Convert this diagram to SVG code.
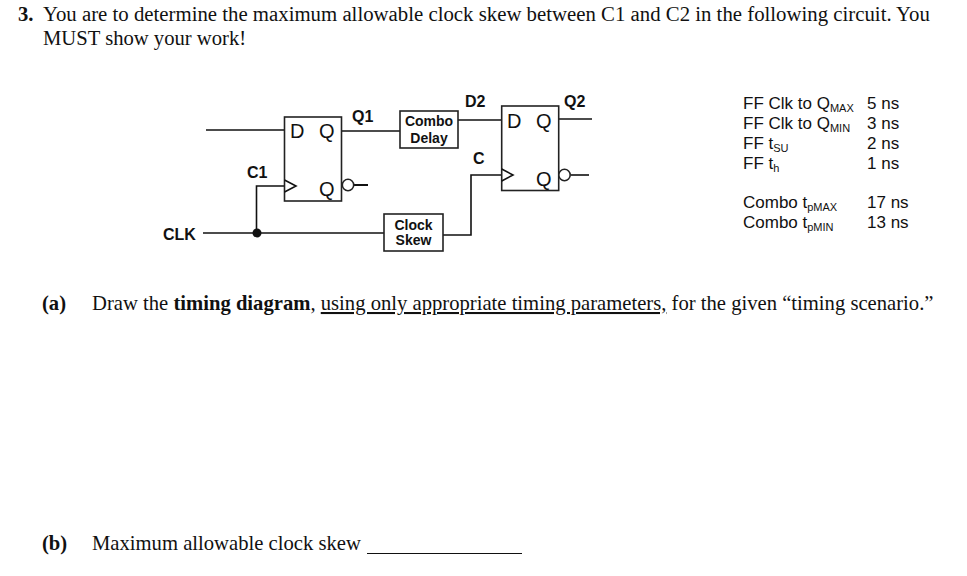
<svg xmlns="http://www.w3.org/2000/svg" width="967" height="576" viewBox="0 0 967 576">
<style>
.t{font-family:"Liberation Serif",serif;font-size:20.65px;fill:#111}
.b{font-weight:bold}
.s{font-family:"Liberation Sans",Arial,sans-serif;fill:#111}
.l{font-size:14px;font-weight:bold}
.n{font-size:16px;font-weight:bold}
.g{font-size:20px}
.p{font-size:17px}
.u{font-size:11px}
.w{fill:none;stroke:#111;stroke-width:1.6}
.box{fill:#fff;stroke:#222;stroke-width:1.6}
</style>
<rect width="967" height="576" fill="#fff"/>
<g id="question">
<text class="t b" x="18" y="21">3.</text>
<text class="t" x="43" y="21" style="font-size:20.8px">You are to determine the maximum allowable clock skew between C1 and C2 in the following circuit. You</text>
<text class="t" x="43" y="45">MUST show your work!</text>
<text class="t b" x="42" y="310">(a)</text>
<text class="t" x="92" y="310">Draw the <tspan class="b">timing diagram</tspan>, <tspan text-decoration="underline" style="text-decoration-skip-ink:none">using only appropriate timing parameters,</tspan> for the given “timing scenario.”</text>
<text class="t b" x="42" y="550">(b)</text>
<text class="t" x="92" y="550">Maximum allowable clock skew</text>
<line x1="367" y1="553.5" x2="522" y2="553.5" stroke="#111" stroke-width="1.2"/>
</g>
<g id="connectors" class="w">
<path d="M206 130H285"/>
<path d="M342 131H400"/>
<path d="M458 120H502"/>
<path d="M559 119H592"/>
<path d="M354 185H368" stroke-width="2"/>
<path d="M571 175H589"/>
<path d="M203 233H384"/>
<path d="M256.500 233V186H285"/>
<path d="M443 235H471V175H502"/>
<circle cx="257" cy="233" r="4.500" fill="#111" stroke="none"/>
</g>
<g id="ff1">
<rect class="box" x="284.500" y="117" width="57" height="84"/>
<path class="w" d="M284.500 180L296 186L284.500 192"/>
<circle class="box" cx="348" cy="185" r="5.700"/>
<text class="s g" x="290" y="138">D</text>
<text class="s g" x="319" y="138">Q</text>
<text class="s g" x="319" y="196">Q</text>
</g>
<g id="ff2">
<rect class="box" x="501.700" y="106" width="57" height="84.500"/>
<path class="w" d="M501.700 169L513 175L501.700 181"/>
<circle class="box" cx="564.500" cy="175" r="5.700"/>
<text class="s g" x="507" y="128">D</text>
<text class="s g" x="536" y="128">Q</text>
<text class="s g" x="536" y="186">Q</text>
</g>
<g id="combo">
<rect class="box" x="400" y="111" width="58" height="37"/>
<text class="s l" x="429" y="126" text-anchor="middle">Combo</text>
<text class="s l" x="429" y="143" text-anchor="middle">Delay</text>
</g>
<g id="skew">
<rect class="box" x="384" y="214" width="59" height="37"/>
<text class="s l" x="413.500" y="230" text-anchor="middle">Clock</text>
<text class="s l" x="413.500" y="245" text-anchor="middle">Skew</text>
</g>
<g id="labels">
<text class="s n" x="352" y="122">Q1</text>
<text class="s n" x="247" y="178">C1</text>
<text class="s n" x="163" y="240">CLK</text>
<text class="s n" x="465" y="107">D2</text>
<text class="s n" x="473" y="164">C</text>
<text class="s n" x="564" y="107">Q2</text>
</g>
<g id="params">
<text class="s p" x="743" y="109">FF Clk to Q<tspan class="u" dy="3">MAX</tspan></text>
<text class="s p" x="743" y="129">FF Clk to Q<tspan class="u" dy="3">MIN</tspan></text>
<text class="s p" x="743" y="149">FF t<tspan class="u" dy="3">SU</tspan></text>
<text class="s p" x="743" y="169">FF t<tspan class="u" dy="3">h</tspan></text>
<text class="s p" x="743" y="208">Combo t<tspan class="u" dy="3">pMAX</tspan></text>
<text class="s p" x="743" y="228">Combo t<tspan class="u" dy="3">pMIN</tspan></text>
<text class="s p" x="867" y="109">5 ns</text>
<text class="s p" x="867" y="129">3 ns</text>
<text class="s p" x="867" y="149">2 ns</text>
<text class="s p" x="867" y="169">1 ns</text>
<text class="s p" x="867" y="208">17 ns</text>
<text class="s p" x="867" y="228">13 ns</text>
</g>
</svg>
